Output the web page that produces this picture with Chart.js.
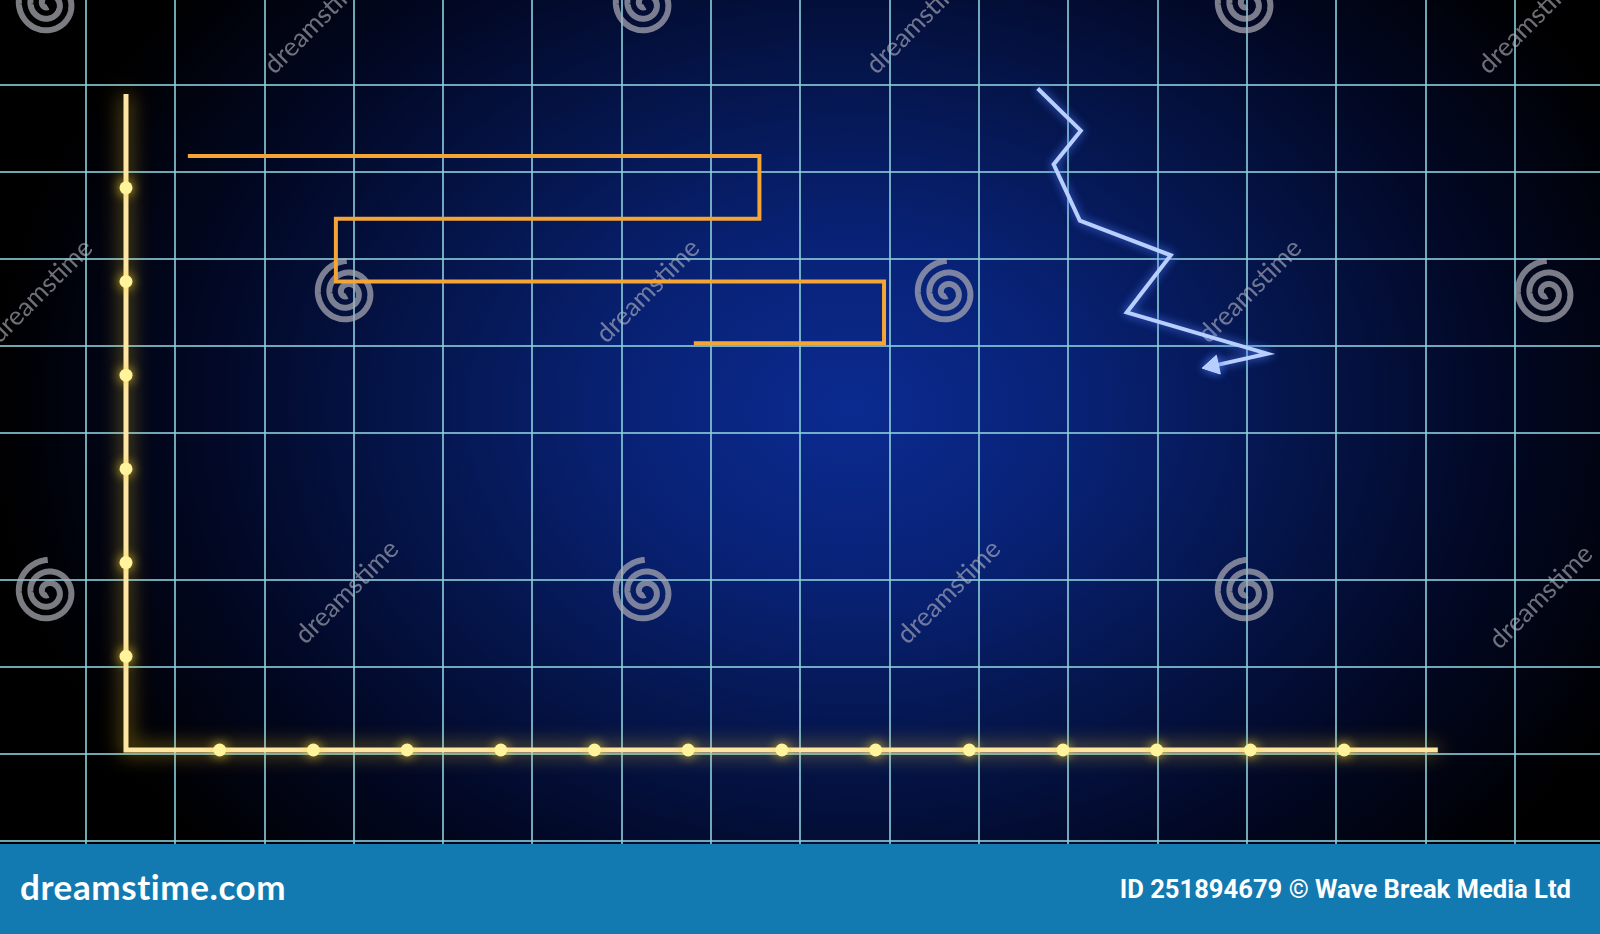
<!DOCTYPE html>
<html>
<head>
<meta charset="utf-8">
<script src="https://cdn.jsdelivr.net/npm/chart.js@4.4.0/dist/chart.umd.min.js"></script>
<style>
  html, body { margin: 0; padding: 0; width: 1600px; height: 934px; overflow: hidden; background: #000; }
  #wrap {
    position: absolute; left: 0; top: 0; width: 1600px; height: 844px;
    background: radial-gradient(ellipse 860px 660px at 850px 410px, #0b2b90 0%, #082277 25%, #05164e 50%, #020825 75%, #000 100%);
  }
  #banner { position: absolute; left: 0; top: 844px; width: 1600px; height: 90px; background: #1279b1; color: #fff; }
  #logo { position: absolute; left: 20px; top: 21px; font-family: "Lato", sans-serif; font-weight: 700; font-size: 35px; letter-spacing: 0.6px; }
  #credit { position: absolute; right: 29px; top: 30px; font-family: "Roboto", sans-serif; font-weight: 700; font-size: 25.6px; }
</style>
</head>
<body>
<div id="wrap"><canvas id="chart" width="1600" height="844"></canvas></div>
<div id="banner">
  <div id="logo">dreamstime.com</div>
  <div id="credit">ID 251894679 © Wave Break Media Ltd</div>
</div>
<script>
// axis ticks (dots along the yellow axes)
const xDots = [1, 2, 3, 4, 5, 6, 7, 8, 9, 10, 11, 12, 13];
const yDots = [1, 2, 3, 4, 5, 6];
const axisX = [0, 0, 14];
const axisY = [7, 0, 0];

// orange snake line
const orangeX = [0.66, 6.76, 6.76, 2.24, 2.24, 8.09, 8.09, 6.06];
const orangeY = [6.34, 6.34, 5.67, 5.67, 5.0, 5.0, 4.34, 4.34];

// blue falling zigzag, last point is the arrow head
const blueX = [9.73, 10.19, 9.9, 10.18, 11.15, 10.68, 12.18, 11.6];
const blueY = [7.06, 6.61, 6.25, 5.65, 5.28, 4.67, 4.23, 4.1];

// background grid
const gridCols = [0, 1, 2, 3, 4, 5, 6, 7, 8, 9, 10, 11, 12, 13, 14, 15, 16];
const gridRows = [0, 1, 2, 3, 4.7, 5.7, 6.7, 7.7, 8.7];

// watermark spots
const markText = [[41, 291], [648, 291], [1250, 291], [347, 592], [949, 592], [1541, 597], [316, 22], [918, 22], [1530, 22]];
const markSpiral = [[347, 293], [947, 293], [1547, 293], [48, 592], [645, 592], [1247, 592], [48, 4], [645, 4], [1247, 4]];

function pts(xs, ys) {
  return xs.map(function (x, i) { return { x: x, y: ys[i] }; });
}

const glowPlugin = {
  id: "glow",
  beforeDatasetDraw: function (chart, args) {
    const ds = chart.data.datasets[args.index];
    chart.ctx.save();
    if (ds.glow) {
      chart.ctx.shadowColor = ds.glow;
      chart.ctx.shadowBlur = ds.glowBlur || 10;
    }
  },
  afterDatasetDraw: function (chart) {
    chart.ctx.restore();
  },
};

const watermarkPlugin = {
  id: "watermark",
  beforeDatasetsDraw: function (chart) {
    const ctx = chart.ctx;
    ctx.save();
    ctx.strokeStyle = "rgba(170, 170, 180, 0.72)";
    ctx.lineWidth = 6;
    markSpiral.forEach(function (p) {
      ctx.beginPath();
      for (let t = 0; t <= Math.PI * 5; t += 0.05) {
        const r = 3 + t * 1.85;
        const px = p[0] + r * Math.cos(t + Math.PI / 2);
        const py = p[1] + r * Math.sin(t + Math.PI / 2);
        if (t === 0) ctx.moveTo(px, py); else ctx.lineTo(px, py);
      }
      ctx.stroke();
    });
    ctx.fillStyle = "rgba(185, 185, 195, 0.6)";
    ctx.font = "26px Lato";
    ctx.textAlign = "center";
    ctx.textBaseline = "middle";
    markText.forEach(function (p) {
      ctx.save();
      ctx.translate(p[0], p[1]);
      ctx.rotate(-Math.PI / 4);
      ctx.fillText("dreamstime", 0, 0);
      ctx.restore();
    });
    ctx.restore();
  },
};

new Chart(document.getElementById("chart").getContext("2d"), {
  type: "scatter",
  data: {
    datasets: [
      {
        label: "x dots",
        data: pts(xDots, xDots.map(function () { return 0; })),
        pointRadius: 6.5,
        pointBackgroundColor: "#fff39c",
        pointBorderWidth: 0,
        glow: "rgba(255, 220, 60, 0.9)",
        glowBlur: 12,
      },
      {
        label: "y dots",
        data: pts(yDots.map(function () { return 0; }), yDots),
        pointRadius: 6.5,
        pointBackgroundColor: "#fff39c",
        pointBorderWidth: 0,
        glow: "rgba(255, 220, 60, 0.9)",
        glowBlur: 12,
      },
      {
        label: "axes",
        data: pts(axisX, axisY),
        showLine: true,
        borderColor: "#ffe6a3",
        borderWidth: 5,
        borderJoinStyle: "miter",
        pointRadius: 0,
        glow: "rgba(255, 210, 40, 0.85)",
        glowBlur: 20,
      },
      {
        label: "orange",
        data: pts(orangeX, orangeY),
        showLine: true,
        borderColor: "#f4a536",
        borderWidth: 4,
        borderJoinStyle: "miter",
        pointRadius: 0,
      },
      {
        label: "blue",
        data: pts(blueX, blueY),
        showLine: true,
        borderColor: "#b9cfff",
        borderWidth: 4,
        borderJoinStyle: "miter",
        pointStyle: "triangle",
        pointRotation: 258,
        pointRadius: function (c) { return c.dataIndex === blueX.length - 1 ? 11 : 0; },
        pointBackgroundColor: "#c4d6ff",
        pointBorderColor: "#c4d6ff",
        pointBorderWidth: 1,
        glow: "rgba(80, 130, 255, 0.9)",
        glowBlur: 10,
      },
    ],
  },
  options: {
    responsive: false,
    animation: false,
    layout: { padding: 0, autoPadding: false },
    scales: {
      x: { type: "linear", display: false, min: -1.3447, max: 15.731 },
      y: { type: "linear", display: false, min: -1.0032, max: 8.0043 },
      gx: {
        type: "linear",
        position: "bottom",
        min: -0.963,
        max: 16.954,
        afterBuildTicks: function (axis) { axis.ticks = gridCols.map(function (v) { return { value: v }; }); },
        ticks: { display: false },
        border: { display: false },
        grid: { color: "rgba(140, 208, 220, 0.8)", lineWidth: 2, drawTicks: false },
      },
      gy: {
        type: "linear",
        position: "left",
        min: -0.035,
        max: 9.678,
        afterBuildTicks: function (axis) { axis.ticks = gridRows.map(function (v) { return { value: v }; }); },
        ticks: { display: false },
        border: { display: false },
        grid: { color: "rgba(140, 208, 220, 0.8)", lineWidth: 2, drawTicks: false },
      },
    },
    plugins: {
      legend: { display: false },
      tooltip: { enabled: false },
    },
  },
  plugins: [watermarkPlugin, glowPlugin],
});
</script>
</body>
</html>
